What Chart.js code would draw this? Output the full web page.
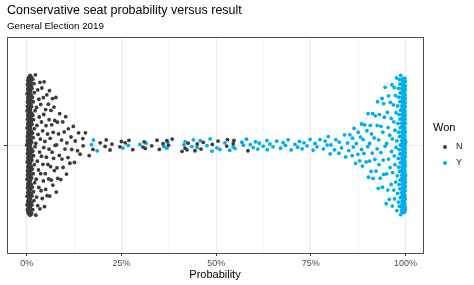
<!DOCTYPE html>
<html>
<head>
<meta charset="utf-8">
<script src="https://cdn.jsdelivr.net/npm/chart.js@4.4.1/dist/chart.umd.min.js"></script>
<style>
  html, body { margin: 0; padding: 0; background: #fff; }
  #wrap { position: relative; width: 474px; height: 285px; font-family: "Liberation Sans", Arial, sans-serif; }
  #chart { position: absolute; left: 0; top: 0; }
  .title { position: absolute; left: 7px; top: 3px; font-size: 12.5px; color: #000; white-space: nowrap; }
  .subtitle { position: absolute; left: 7px; top: 20px; font-size: 9.8px; color: #000; white-space: nowrap; }
  .legend { position: absolute; left: 433px; top: 121px; color: #000; }
  .legend .head { font-size: 11px; margin-bottom: 7px; }
  .legend .row { position: relative; height: 16px; font-size: 9px; color: #1a1a1a; }
  .legend .dot { position: absolute; left: 10px; top: 5px; width: 4px; height: 4px; border-radius: 50%; }
  .legend .lab { position: absolute; left: 23px; top: 1px; }
</style>
</head>
<body>
<div id="wrap">
  <canvas id="chart" width="474" height="285"></canvas>
  <div class="title">Conservative seat probability versus result</div>
  <div class="subtitle">General Election 2019</div>
  <div class="legend">
    <div class="head">Won</div>
    <div class="row"><span class="dot" style="background:#3b3b3b"></span><span class="lab">N</span></div>
    <div class="row"><span class="dot" style="background:#00aeef"></span><span class="lab">Y</span></div>
  </div>
</div>
<script>
// ── Seat probabilities (%) ───────────────────────────────────────────────────
// Seats the Conservatives did not win
const LOST = [
  0.0,0.1,0.1,0.1,0.2,0.2,0.2,0.2,0.3,0.3, 0.3,0.3,0.3,0.4,0.4,0.4,0.4,0.4,0.4,0.5,
  0.5,0.5,0.5,0.5,0.5,0.5,0.6,0.6,0.6,0.6, 0.6,0.6,0.6,0.7,0.7,0.7,0.7,0.7,0.7,0.7,
  0.8,0.8,0.8,0.8,0.8,0.8,0.9,0.9,0.9,0.9, 0.9,0.9,1.0,1.0,1.0,1.0,1.0,1.1,1.1,1.1,
  1.1,1.1,1.2,1.2,1.2,1.2,1.3,1.3,1.3,1.3, 1.4,1.4,1.4,1.5,1.5,1.5,1.6,1.6,1.6,1.7,
  1.7,1.8,1.8,1.9,1.9,2.0,2.0,2.1,2.2,2.2, 0.2,0.3,0.5,0.4,0.6,0.8,0.7,1.0,0.9,1.2,
  0.1,0.3,0.4,0.6,0.5,0.7,0.9,1.1,0.8,1.4, 0.2,0.4,0.3,0.5,0.6,0.8,1.0,0.7,1.2,1.5,
  0.3,0.2,0.5,0.4,0.7,0.6,0.9,1.1,1.3,1.6, 0.1,0.4,0.5,0.6,0.8,0.9,1.0,1.2,1.4,1.8,
  0.2,0.3,0.4,0.6,0.7,0.8,1.1,1.3,1.7,2.0,
  0.1,0.2,0.3,0.3,0.4,0.5,0.5,0.6,0.7,0.8, 0.2,0.3,0.4,0.5,0.6,0.6,0.7,0.9,1.0,1.1,
  0.1,0.2,0.4,0.4,0.5,0.6,0.7,0.8,0.9,1.2, 0.3,0.4,0.5,0.5,0.6,0.7,0.8,1.0,1.2,1.3,
  2.3,2.4,2.6,2.6,2.8,2.9,3.1,3.2,3.3,3.5, 3.6,3.8,3.9,4.0,4.2,4.3,4.5,4.6,4.8,4.9,
  5.1,5.2,5.4,5.6,5.7,5.9,6.0,6.3,6.4,6.6, 6.8,7.0,7.2,7.5,7.7,7.9,8.2,8.4,8.7,9.0,
  9.3,9.6,9.9,10.3,10.6,11.0,11.4,11.9,12.3,12.8, 13.4,14.1,14.8,2.5,2.9,3.4,3.7,4.1,4.4,4.7,
  5.0,5.5,5.8,6.2,6.7,7.1,7.4,8.0,8.6,9.2, 10.1,10.9,11.7,12.6,13.7,
  2.7,3.0,3.5,3.9,4.4,5.3,5.9,6.5,7.3,8.1, 2.4,3.2,3.7,4.5,5.0,6.1,6.9,7.8,9.5,10.5,
  14.9,15.5,16.5,17.5,19.4,20.7,21.0,22.0,22.5,24.6, 25.0,26.0,27.0,28.0,30.7,31.0,31.3,33.0,34.4,35.0,
  36.0,37.0,37.4,38.4,41.0,41.8,42.3,42.6,44.4,45.0, 46.0,46.6,49.0,50.5,52.8,53.0,54.5,54.7,58.4
];

// Seats the Conservatives won
const WON = [
  17.1,17.6,18.6,25.4,26.8,29.9,31.5,36.2,37.0,
  37.2,41.5,41.8,43.6,44.0,45.0,45.8,47.6,48.4,48.9, 50.2,51.0,52.3,53.6,54.5,55.0,56.8,57.2,58.0,59.0,
  59.8,60.4,61.0,61.4,62.4,63.4,63.5,64.2,65.0,66.0, 67.0,67.7,68.3,69.0,69.8,70.8,71.5,72.0,72.7,73.2,
  74.0,74.8,75.6,76.1,76.6,77.4,78.3,78.8,79.3,79.6, 80.1,
  80.3,81.2,81.6,82.4,82.5,83.1,83.9,84.2,84.7,85.0, 85.3,85.9,86.0,86.4,86.8,87.0,87.4,87.5,87.9,88.1,
  88.4,88.4,88.8,89.0,89.2,89.6,89.8,90.0,90.2,90.5, 90.5,90.7,90.9,91.2,91.3,91.4,91.7,91.9,92.0,92.2,
  92.5,92.5,92.8,92.9,93.1,93.3,93.5,93.5,93.8,93.9, 94.0,94.2,94.2,94.4,94.6,94.6,94.9,95.0,95.0,95.2,
  95.3,95.5,95.5,95.7,95.8,95.9,96.0,96.2,96.2,96.3, 96.5,96.5,96.6,96.8,96.9,96.9,97.0,97.1,97.2,97.2,
  97.3,97.4,97.5,97.5,97.6,97.7,97.7,97.8,97.9,97.9, 86.2,88.6,90.1,91.0,92.6,93.0,94.1,95.4,96.4,97.0,
  98.0,98.1,98.1,98.2,98.2,98.3,98.3,98.4,98.4,98.5, 98.5,98.5,98.6,98.6,98.6,98.7,98.7,98.7,98.8,98.8,
  98.8,98.9,98.9,98.9,98.9,99.0,99.0,99.0,99.0,99.1, 99.1,99.1,99.1,99.1,99.2,99.2,99.2,99.2,99.2,99.3,
  99.3,99.3,99.3,99.3,99.3,99.4,99.4,99.4,99.4,99.4, 99.4,99.5,99.5,99.5,99.5,99.5,99.5,99.5,99.6,99.6,
  99.6,99.6,99.6,99.6,99.6,99.7,99.7,99.7,99.7,99.7, 99.7,99.7,99.8,99.8,99.8,99.8,99.8,99.8,99.8,99.8,
  99.9,99.9,99.9,99.9,99.9,99.9,99.9,99.9,99.9,100.0,
  98.3,98.6,98.9,99.0,99.2,99.3,99.4,99.5,99.6,99.7, 98.4,98.7,99.0,99.1,99.3,99.4,99.5,99.6,99.7,99.8,
  98.2,98.8,99.1,99.2,99.4,99.5,99.6,99.7,99.8,99.9, 98.5,98.9,99.2,99.3,99.5,99.6,99.7,99.8,99.9,99.9,
  98.1,98.7,99.0,99.3,99.4,99.6,99.7,99.8,99.8,99.9, 98.6,98.8,99.1,99.2,99.5,99.6,99.7,99.8,99.9,100.0,
  98.4,98.9,99.2,99.4,99.5,99.6,99.7,99.8,99.9,99.9, 98.5,99.0,99.3,99.4,99.5,99.6,99.7,99.8,99.8,99.9,
  99.0,99.2,99.3,99.5,99.6,99.7,99.8,99.9,99.9,99.9, 98.7,99.1,99.4,99.5,99.6,99.7,99.8,99.8,99.9,99.9
];

const X_TICKS = [0, 12.5, 25, 37.5, 50, 62.5, 75, 87.5, 100];
const X_LABELS = ['0%', '', '25%', '', '50%', '', '75%', '', '100%'];

const COL_N = '#3b3b3b';
const COL_Y = '#00aeef';

// ── Quasirandom (violin-shaped) vertical offsets, as ggbeeswarm does ────────
function vanDerCorput(i) {
  let v = 0, f = 0.5;
  while (i > 0) { v += f * (i % 2); i = Math.floor(i / 2); f /= 2; }
  return v;
}

function quantile(sorted, p) {
  const h = (sorted.length - 1) * p, lo = Math.floor(h);
  return sorted[lo] + (h - lo) * ((sorted[lo + 1] ?? sorted[lo]) - sorted[lo]);
}

function layoutSwarm(width) {
  const pts = LOST.map(v => ({ x: v, won: 'N' })).concat(WON.map(v => ({ x: v, won: 'Y' })));
  const n = pts.length;
  const xs = pts.map(p => p.x).sort((a, b) => a - b);
  const mean = xs.reduce((a, b) => a + b, 0) / n;
  const sd = Math.sqrt(xs.reduce((a, b) => a + (b - mean) ** 2, 0) / (n - 1));
  const iqr = quantile(xs, 0.75) - quantile(xs, 0.25);
  const bw = 0.5 * 0.9 * Math.min(sd, iqr / 1.34) * Math.pow(n, -0.2);
  const dens = x => xs.reduce((s, v) => s + Math.exp(-0.5 * ((x - v) / bw) ** 2), 0);
  let maxD = 0;
  for (let g = xs[0] - 3 * bw; g <= xs[n - 1] + 3 * bw; g += 0.2) maxD = Math.max(maxD, dens(g));
  const order = pts.map((p, i) => i).sort((a, b) => pts[a].x - pts[b].x || a - b);
  order.forEach((idx, r) => {
    const p = pts[idx];
    p.y = (vanDerCorput(r + 1) - 0.5) * 2 * width * dens(p.x) / maxD;
  });
  return pts;
}

const pts = layoutSwarm(0.4);

// ── Panel border, drawn over the marks ──────────────────────────────────────
const borderPlugin = {
  id: 'panelBorder',
  afterDraw(chart) {
    const { ctx, chartArea: a } = chart;
    ctx.save();
    ctx.strokeStyle = '#4d4d4d';
    ctx.lineWidth = 1;
    ctx.strokeRect(Math.round(a.left) + 0.5, Math.round(a.top) + 0.5,
      Math.round(a.right - a.left), Math.round(a.bottom - a.top));
    ctx.restore();
  }
};

new Chart(document.getElementById('chart'), {
  type: 'scatter',
  data: {
    datasets: [
      { label: 'N', data: pts.filter(p => p.won === 'N'), backgroundColor: COL_N,
        pointRadius: 1.9, pointBorderWidth: 0, pointHoverRadius: 1.9 },
      { label: 'Y', data: pts.filter(p => p.won === 'Y'), backgroundColor: COL_Y,
        pointRadius: 1.9, pointBorderWidth: 0, pointHoverRadius: 1.9 },
    ],
  },
  options: {
    responsive: false,
    animation: false,
    events: [],
    layout: { padding: { left: 0, right: 51, top: 37, bottom: 0 } },
    plugins: { legend: { display: false }, tooltip: { enabled: false } },
    scales: {
      x: {
        type: 'linear',
        min: -5.2,
        max: 104.6,
        afterBuildTicks: s => { s.ticks = X_TICKS.map(v => ({ value: v })); },
        afterFit: s => { s.height = 32; },
        grid: {
          color: c => (c.tick && c.tick.value % 25 === 0) ? '#ebebeb' : '#f4f4f4',
          tickColor: c => (c.tick && c.tick.value % 25 === 0) ? '#333' : 'rgba(0,0,0,0)',
          tickLength: 3,
          drawOnChartArea: true,
        },
        border: { display: false },
        ticks: {
          autoSkip: false,
          maxRotation: 0,
          padding: 2,
          color: '#4d4d4d',
          font: { family: '"Liberation Sans", Arial, sans-serif', size: 9 },
          callback: (v, i) => X_LABELS[X_TICKS.indexOf(v)] ?? '',
        },
        title: {
          display: true,
          text: 'Probability',
          color: '#000',
          font: { family: '"Liberation Sans", Arial, sans-serif', size: 11 },
          padding: { top: 0, bottom: 3 },
        },
      },
      y: {
        type: 'linear',
        min: -0.6,
        max: 0.6,
        afterBuildTicks: s => { s.ticks = [{ value: 0 }]; },
        afterFit: s => { s.width = 7; },
        grid: { color: '#ebebeb', tickColor: '#333', tickLength: 3 },
        border: { display: false },
        ticks: { display: true, callback: () => '', padding: 0 },
      },
    },
  },
  plugins: [borderPlugin],
});
</script>
</body>
</html>
